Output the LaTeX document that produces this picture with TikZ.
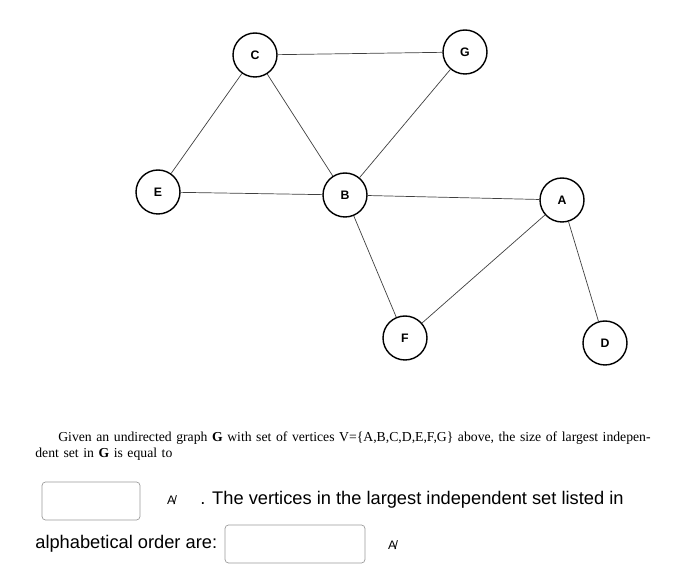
\documentclass[tikz,border=0pt]{standalone}
\usepackage{fontspec}
\setmainfont{Liberation Serif}
\newfontfamily\sansf{Liberation Sans}
\begin{document}
\begin{tikzpicture}[x=0.02cm,y=-0.02cm]
\tikzstyle{vertex} = [circle,fill=white,draw=black,thick,minimum size=0.88cm,font=\sansf\bfseries\fontsize{7}{8}\selectfont]
\tikzstyle{edge} = [-,draw=black!75]
\tikzstyle{answer} = [draw=black!40,rounded corners=2pt,minimum width=1.96cm,minimum height=0.76cm]
\tikzstyle{prose} = [font=\sansf\fontsize{10.4}{12}\selectfont,inner sep=0pt]
\useasboundingbox (0,0) rectangle (700,580);
\node[vertex] (c) at (255,55) {C};
\node[vertex] (g) at (465,52) {G};
\node[vertex] (e) at (158,192) {E};
\node[vertex] (b) at (345,195) {B};
\node[vertex] (a) at (562,200) {A};
\node[vertex] (f) at (405,338) {F};
\node[vertex] (d) at (605,343) {D};
\draw[edge] (c)--(g);
\draw[edge] (c)--(e);
\draw[edge] (c)--(b);
\draw[edge] (g)--(b);
\draw[edge] (e)--(b);
\draw[edge] (b)--(a);
\draw[edge] (b)--(f);
\draw[edge] (f)--(a);
\draw[edge] (a)--(d);
\node[anchor=north west,inner sep=0pt,text width=12.5cm,align=left,font=\fontsize{7.8}{8.6}\selectfont] (q) at (35,432)
  {\hyphenpenalty=10000\exhyphenpenalty=10000\hspace*{0.46cm}Given an undirected graph \textbf{G} with set of vertices V=\{A,B,C,D,E,F,G\} above, the size of largest independent set in \textbf{G} is equal to};
\node[answer] (box1) at (91,501) {};
\node[prose,font=\sansf\fontsize{7}{8}\selectfont] (ic1) at (172,500) {A\kern-1pt/};
\node[prose,anchor=west] (t1) at (200,500) {. The vertices in the largest independent set listed in};
\node[prose,anchor=west] (t2) at (35,544) {alphabetical order are:};
\node[answer,minimum width=2.8cm] (box2) at (295,544) {};
\node[prose,font=\sansf\fontsize{7}{8}\selectfont] (ic2) at (393,545) {A\kern-1pt/};
\end{tikzpicture}
\end{document}
